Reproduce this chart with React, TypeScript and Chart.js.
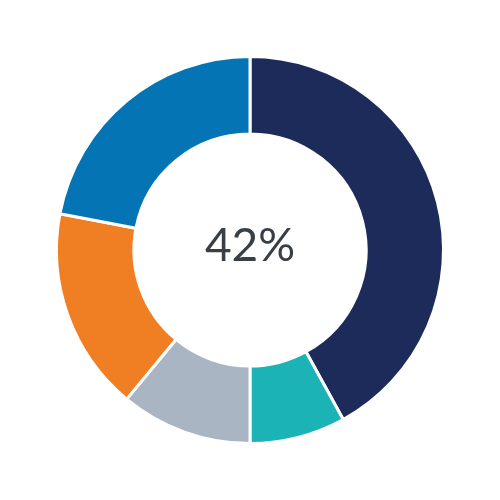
import React, { useEffect, useRef } from "react";
import { Chart, registerables } from "chart.js";

Chart.register(...registerables);

const labels = ["Navy", "Teal", "Gray", "Orange", "Blue"];
const values = [42, 8, 11, 17, 22];
const colors = ["#1c2b5a", "#1bb3b6", "#a9b5c3", "#f07e22", "#0474b4"];
const centerText = "42%";

const centerPlugin = {
  id: "centerText",
  afterDraw(chart: any) {
    const { ctx, chartArea } = chart;
    const cx = (chartArea.left + chartArea.right) / 2;
    const cy = (chartArea.top + chartArea.bottom) / 2;
    ctx.save();
    ctx.font = "400 46px Lato, 'Open Sans', sans-serif";
    ctx.fillStyle = "#3a3f47";
    ctx.textAlign = "center";
    ctx.textBaseline = "middle";
    ctx.fillText(centerText, cx, cy - 4);
    ctx.restore();
  },
};

export default function App() {
  const ref = useRef<HTMLCanvasElement>(null);
  useEffect(() => {
    if (!ref.current) return;
    const chart = new Chart(ref.current, {
      type: "doughnut",
      data: {
        labels,
        datasets: [
          {
            data: values,
            backgroundColor: colors,
            borderColor: "#ffffff",
            borderWidth: 3,
            hoverBorderWidth: 3,
          },
        ],
      },
      options: {
        animation: false,
        responsive: true,
        maintainAspectRatio: false,
        cutout: "60%",
        layout: { padding: 55 },
        plugins: {
          legend: { display: false },
          tooltip: { enabled: false },
        },
      },
      plugins: [centerPlugin],
    });
    return () => chart.destroy();
  }, []);
  return (
    <div style={{ position: "fixed", left: 0, top: 0, width: 500, height: 500, background: "#fff" }}>
      <canvas ref={ref} />
    </div>
  );
}
